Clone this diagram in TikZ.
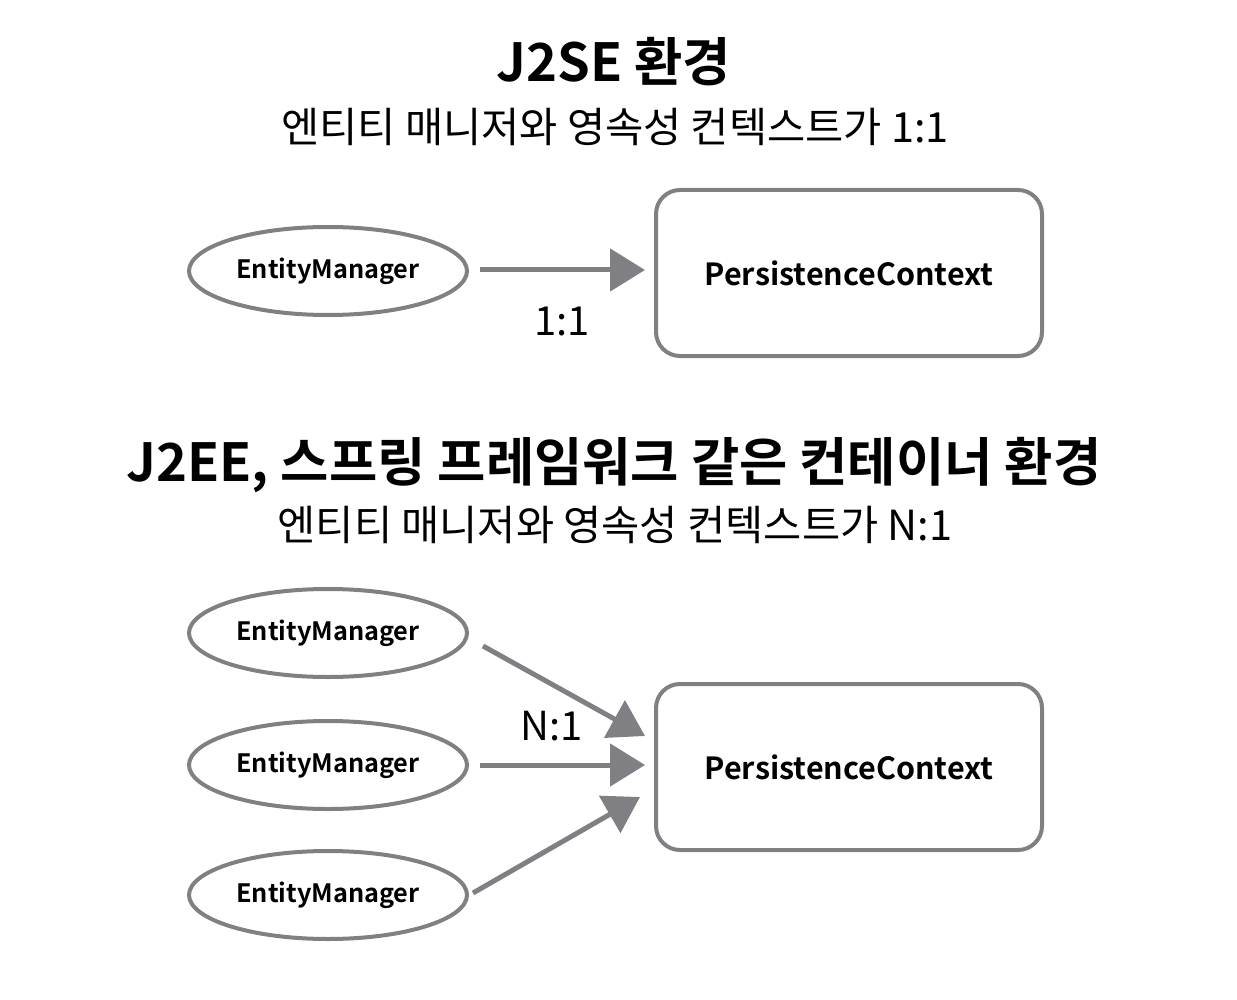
\documentclass[tikz,border=0pt]{standalone}
\usepackage{fontspec}
\usetikzlibrary{shapes.geometric,arrows.meta}
\newfontfamily\kr{Noto Sans CJK KR}
\newfontfamily\krb{Noto Sans CJK KR Bold}
\definecolor{sk}{HTML}{808084}
\tikzset{
  em/.style={ellipse, draw=sk, line width=4pt, minimum width=278pt, minimum height=88pt, inner sep=0pt, font=\krb\fontsize{25.3}{30}\selectfont},
  pc/.style={rectangle, rounded corners=24pt, draw=sk, line width=4pt, minimum width=386pt, minimum height=166pt, inner sep=0pt, font=\krb\fontsize{30.5}{36}\selectfont},
  conn/.style={draw=sk, line width=5pt, -{Triangle[length=35pt,width=42pt]}},
  ttl/.style={font=\krb\fontsize{52.5}{62}\selectfont, inner sep=0pt},
  sub/.style={font=\kr\fontsize{41.5}{50}\selectfont, inner sep=0pt},
  lbl/.style={font=\kr\fontsize{40}{48}\selectfont, inner sep=0pt}
}
\begin{document}
\begin{tikzpicture}[x=1pt,y=-1pt]
\useasboundingbox (0,0) rectangle (1237,1000);
\node[ttl] (t1) at (614,62) {J2SE 환경};
\node[sub] (s1) at (615,127) {엔티티 매니저와 영속성 컨텍스트가 1:1};
\node[em] (e1) at (328,271) {\raisebox{-2pt}{EntityManager}};
\node[pc] (p1) at (849,273) {PersistenceContext};
\coordinate (c1a) at (480,270);
\coordinate (c1b) at (645,270);
\draw[conn] (c1a) -- (c1b);
\node[lbl] (l1) at (562,322) {1:1};

\node[ttl] (t2) at (614,465) {J2EE, 스프링 프레임워크 같은 컨테이너 환경};
\node[sub] (s2) at (615,525) {엔티티 매니저와 영속성 컨텍스트가 N:1};
\node[em] (e2) at (328,633) {\raisebox{-2pt}{EntityManager}};
\node[em] (e3) at (328,765) {\raisebox{-2pt}{EntityManager}};
\node[em] (e4) at (328,895) {\raisebox{-2pt}{EntityManager}};
\node[pc] (p2) at (849,767) {PersistenceContext};
\coordinate (c2a) at (483,646);
\coordinate (c2b) at (645,736);
\coordinate (c3a) at (480,765);
\coordinate (c3b) at (645,765);
\coordinate (c4a) at (473,893);
\coordinate (c4b) at (640,797);
\draw[conn] (c2a) -- (c2b);
\draw[conn] (c3a) -- (c3b);
\draw[conn] (c4a) -- (c4b);
\node[lbl] (l2) at (552,726) {N:1};
\end{tikzpicture}
\end{document}
